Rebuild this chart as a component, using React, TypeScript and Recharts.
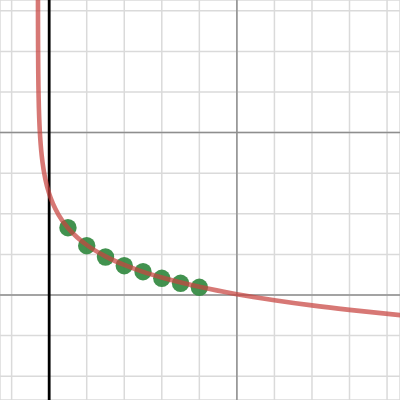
import React from "react";
import {
  ComposedChart,
  Line,
  Scatter,
  XAxis,
  YAxis,
  CartesianGrid,
  ReferenceLine,
} from "recharts";

// Curve samples (x, y)
const CURVE_X = [
  -0.598, -0.595, -0.59, -0.58, -0.56, -0.53, -0.5, -0.45, -0.4, -0.3, -0.2, 0,
  0.2, 0.5, 1, 1.5, 2, 3, 4, 5, 6, 8, 10, 12, 14, 16, 19,
];
const CURVE_Y = [
  5.707, 5.312, 5.013, 4.714, 4.415, 4.174, 4.021, 3.846, 3.722, 3.547, 3.423,
  3.248, 3.124, 2.987, 2.825, 2.708, 2.616, 2.476, 2.37, 2.285, 2.215, 2.101,
  2.01, 1.936, 1.872, 1.817, 1.745,
];

// Green data points
const POINT_X = [1, 2, 3, 4, 5, 6, 7, 8];
const POINT_Y = [2.829, 2.607, 2.468, 2.361, 2.287, 2.206, 2.144, 2.095];

// Grid
const X_TICKS = [-2, 0, 2, 4, 6, 8, 10, 12, 14, 16, 18];
const Y_TICKS = [1, 1.5, 2, 2.5, 3, 3.5, 4, 4.5, 5, 5.5];
const X_MAJOR = [10];
const Y_MAJOR = [2, 4];

const X_DOMAIN = [-2.62, 18.69];
const Y_DOMAIN = [0.707, 5.633];

const curve = CURVE_X.map((x, i) => ({ x, y: CURVE_Y[i] }));
const points = POINT_X.map((x, i) => ({ x, y: POINT_Y[i] }));

const Dot = (props: any) => (
  <circle cx={props.cx} cy={props.cy} r={8.7} fill="#388c46" fillOpacity={0.95} />
);

export default function App() {
  return (
    <div style={{ position: "fixed", left: 0, top: 0, background: "#fff" }}>
      <ComposedChart
        width={400}
        height={400}
        margin={{ top: 0, right: 0, bottom: 0, left: 0 }}
      >
        <XAxis
          type="number"
          dataKey="x"
          domain={X_DOMAIN}
          ticks={X_TICKS}
          allowDataOverflow
          hide
        />
        <YAxis
          type="number"
          dataKey="y"
          domain={Y_DOMAIN}
          ticks={Y_TICKS}
          allowDataOverflow
          hide
        />
        <CartesianGrid stroke="#dadada" strokeWidth={1.5} />
        {X_MAJOR.map((v) => (
          <ReferenceLine key={`xm-${v}`} x={v} stroke="#8e8e8e" strokeWidth={1.5} />
        ))}
        {Y_MAJOR.map((v) => (
          <ReferenceLine key={`ym-${v}`} y={v} stroke="#8e8e8e" strokeWidth={1.5} />
        ))}
        <ReferenceLine x={0} stroke="#000" strokeWidth={2.8} />
        <Scatter data={points} dataKey="y" shape={Dot} isAnimationActive={false} />
        <Line
          data={curve}
          dataKey="y"
          type="monotone"
          stroke="#c74440"
          strokeOpacity={0.72}
          strokeWidth={4.6}
          dot={false}
          activeDot={false}
          isAnimationActive={false}
          {...({ zIndex: 900 } as any)}
        />
      </ComposedChart>
    </div>
  );
}
